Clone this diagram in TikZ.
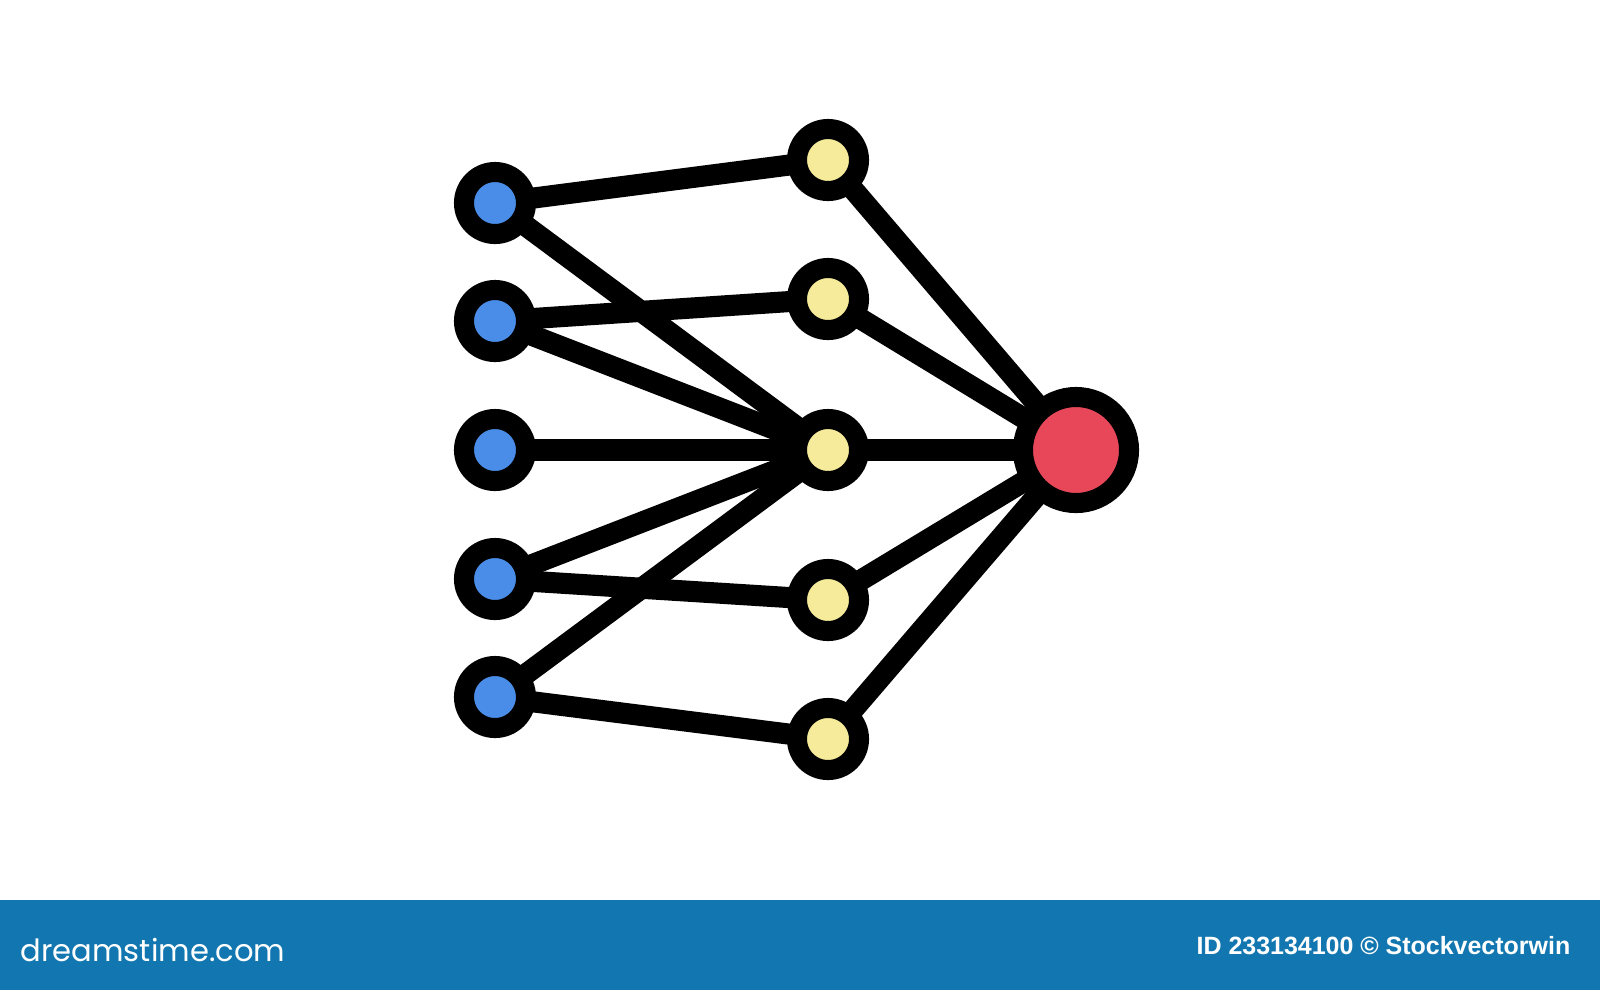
\documentclass[tikz,border=0pt]{standalone}
\usepackage{fontspec}
\newfontfamily\logofont{Poppins}
\newfontfamily\idfont{Liberation Sans}
\usetikzlibrary{backgrounds}
\definecolor{inblue}{HTML}{4A8DE8}
\definecolor{hidyellow}{HTML}{F5EB9A}
\definecolor{outred}{HTML}{E8475A}
\definecolor{barblue}{HTML}{1277B0}
\tikzset{
  unit/.style={draw=black,circle,line width=5.7pt,inner sep=0pt,minimum size=0.62cm},
  link/.style={line width=6pt}
}
\begin{document}
\begin{tikzpicture}[x=0.01cm,y=-0.01cm]
\useasboundingbox (0,0) rectangle (1600,990);
\node[unit,fill=inblue] (b1) at (495,203) {};
\node[unit,fill=inblue] (b2) at (495,321) {};
\node[unit,fill=inblue] (b3) at (495,450) {};
\node[unit,fill=inblue] (b4) at (495,579) {};
\node[unit,fill=inblue] (b5) at (495,697) {};
\node[unit,fill=hidyellow] (y1) at (828,160) {};
\node[unit,fill=hidyellow] (y2) at (828,299) {};
\node[unit,fill=hidyellow] (y3) at (828,450) {};
\node[unit,fill=hidyellow] (y4) at (828,600) {};
\node[unit,fill=hidyellow] (y5) at (828,739) {};
\node[unit,fill=outred,minimum size=1.06cm] (r) at (1076,450) {};
\begin{scope}[on background layer]
\fill[white] (0,0) rectangle (1600,990);
\draw[link] (b1.center) -- (y1.center);
\draw[link] (b1.center) -- (y3.center);
\draw[link] (b2.center) -- (y2.center);
\draw[link] (b2.center) -- (y3.center);
\draw[link] (b3.center) -- (y3.center);
\draw[link] (b4.center) -- (y3.center);
\draw[link] (b4.center) -- (y4.center);
\draw[link] (b5.center) -- (y3.center);
\draw[link] (b5.center) -- (y5.center);
\draw[link] (y1.center) -- (r.center);
\draw[link] (y2.center) -- (r.center);
\draw[link] (y3.center) -- (r.center);
\draw[link] (y4.center) -- (r.center);
\draw[link] (y5.center) -- (r.center);
\end{scope}
% footer bar
\fill[barblue] (0,900) rectangle (1600,990);
\node[anchor=west,inner sep=0pt,text=white] (logo) at (20,950)
  {\logofont\fontsize{8.7}{10}\selectfont dreamstime.com};
\node[anchor=east,inner sep=0pt,text=white] (credit) at (1571,946)
  {\idfont\bfseries\fontsize{7.1}{8.5}\selectfont ID 233134100 © Stockvectorwin};
\end{tikzpicture}
\end{document}
